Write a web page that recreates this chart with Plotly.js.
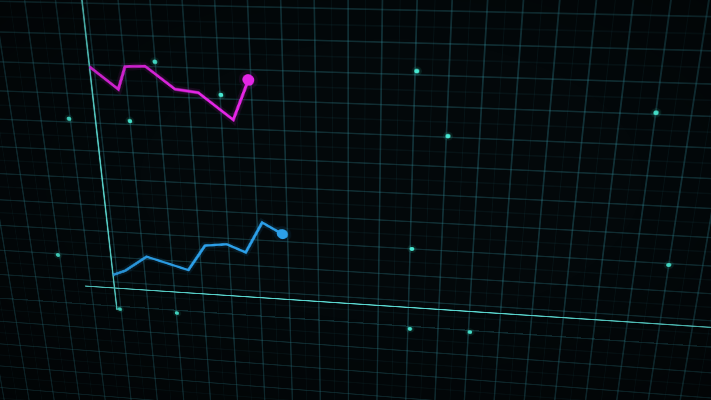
<!DOCTYPE html>
<html><head><meta charset="utf-8">
<script src="https://cdn.plot.ly/plotly-3.0.1.min.js"></script>
<style>
html,body{margin:0;padding:0;background:#03080a;width:711px;height:400px;overflow:hidden;}
#stage{position:absolute;left:0;top:0;width:711px;height:400px;overflow:hidden;background:#03080a;}
#plot{position:absolute;left:0;top:0;transform-origin:0 0;}
#vig{position:absolute;left:0;top:0;width:711px;height:400px;pointer-events:none;
 background:radial-gradient(ellipse at 55% 45%, rgba(0,0,0,0) 45%, rgba(0,0,0,0.4) 100%);}
</style></head><body>
<div id="stage"><div id="plot"></div><div id="vig"></div></div>
<script>
// ---- data (grid units on the chart plane) ----
const magentaX = [0, 0.87, 1.16, 1.81, 2.72, 3.46, 4.53, 5.07];
const magentaY = [8.18, 7.45, 8.22, 8.26, 7.52, 7.43, 6.55, 7.91];
const blueX = [0, 0.45, 1.27, 2.70, 3.34, 4.09, 4.72, 5.32, 5.98];
const blueY = [0.53, 0.73, 1.35, 0.92, 1.92, 2.02, 1.75, 2.92, 2.53];
const dotX = [2.14, 10.20, 4.18, -0.89, 1.15, 11.20, 17.16, 10.21, -1.91, 18.15, 0.11, 2.17, 10.22, 12.20];
const dotY = [8.41, 8.37, 7.38, 6.36, 6.37, 6.29, 7.30, 2.25, 1.20, 2.20, -0.86, -0.86, -0.85, -0.81];

// ---- plane / view settings ----
const X_RANGE = [-6, 24], Y_RANGE = [-6, 12];
const K = 40; // local px per unit
const W = (X_RANGE[1] - X_RANGE[0]) * K, H = (Y_RANGE[1] - Y_RANGE[0]) * K;
const Y_AXIS_START = -0.9, X_AXIS_START = -1.07;
// perspective calibration: plane rectangle (0,0)-(18,9.5) -> screen quad
const CAL_W = 18, CAL_H = 9.5;
const Q00 = [114.5, 288], Q10 = [655, 323.7], Q11 = [697, 42], Q01 = [84.93, 26.56];

function squareToQuad(p0, p1, p2, p3) {
  const [x0, y0] = p0, [x1, y1] = p1, [x2, y2] = p2, [x3, y3] = p3;
  const dx1 = x1 - x2, dx2 = x3 - x2, dx3 = x0 - x1 + x2 - x3;
  const dy1 = y1 - y2, dy2 = y3 - y2, dy3 = y0 - y1 + y2 - y3;
  const det = dx1 * dy2 - dx2 * dy1;
  const g = (dx3 * dy2 - dx2 * dy3) / det, h = (dx1 * dy3 - dx3 * dy1) / det;
  return [[x1 - x0 + g * x1, x3 - x0 + h * x3, x0],
          [y1 - y0 + g * y1, y3 - y0 + h * y3, y0],
          [g, h, 1]];
}
function mul(A, B) {
  const R = [[0,0,0],[0,0,0],[0,0,0]];
  for (let i = 0; i < 3; i++) for (let j = 0; j < 3; j++)
    for (let k = 0; k < 3; k++) R[i][j] += A[i][k] * B[k][j];
  return R;
}
const S = squareToQuad(Q00, Q10, Q11, Q01);
const Dm = [[1 / CAL_W, 0, 0], [0, 1 / CAL_H, 0], [0, 0, 1]];
const Am = [[1 / K, 0, X_RANGE[0]], [0, -1 / K, Y_RANGE[1]], [0, 0, 1]];
const M = mul(mul(S, Dm), Am);
const el = document.getElementById('plot');
el.style.width = W + 'px'; el.style.height = H + 'px';
el.style.transform = 'matrix3d(' + [M[0][0], M[1][0], 0, M[2][0], M[0][1], M[1][1], 0, M[2][1], 0, 0, 1, 0, M[0][2], M[1][2], 0, M[2][2]].join(',') + ')';

const MAG = '#e526e6', BLU = '#2c9fe8', AX = '#5ad6cf', DOT = '#48e8d2';
const last = a => [a[a.length - 1]];
const traces = [
  {x: dotX, y: dotY, mode: 'markers', marker: {size: 12, color: 'rgba(72,232,210,0.10)'}},
  {x: dotX, y: dotY, mode: 'markers', marker: {size: 6, color: DOT}},
  {x: magentaX, y: magentaY, mode: 'lines', line: {color: 'rgba(229,38,230,0.10)', width: 10}},
  {x: magentaX, y: magentaY, mode: 'lines', line: {color: MAG, width: 3.8}},
  {x: last(magentaX), y: last(magentaY), mode: 'markers', marker: {size: 24, color: 'rgba(229,38,230,0.08)'}},
  {x: last(magentaX), y: last(magentaY), mode: 'markers', marker: {size: 15, color: MAG}},
  {x: blueX, y: blueY, mode: 'lines', line: {color: 'rgba(44,159,232,0.10)', width: 10}},
  {x: blueX, y: blueY, mode: 'lines', line: {color: BLU, width: 3.8}},
  {x: last(blueX), y: last(blueY), mode: 'markers', marker: {size: 24, color: 'rgba(44,159,232,0.08)'}},
  {x: last(blueX), y: last(blueY), mode: 'markers', marker: {size: 15, color: BLU}}
];
const axisCommon = {showticklabels: false, ticks: '', zeroline: false, showline: false,
  showgrid: true, dtick: 1, fixedrange: true};
const layout = {
  width: W, height: H, autosize: false, showlegend: false,
  margin: {l: 0, r: 0, t: 0, b: 0, pad: 0},
  paper_bgcolor: '#03080a', plot_bgcolor: '#03080a',
  xaxis: Object.assign({}, axisCommon, {range: X_RANGE, tick0: 0.16,
    gridcolor: 'rgba(55,155,170,0.28)', gridwidth: 2,
    minor: {dtick: 0.5, tick0: 0.16, showgrid: true, gridcolor: 'rgba(55,155,170,0.08)', gridwidth: 1.4}}),
  yaxis: Object.assign({}, axisCommon, {range: Y_RANGE, tick0: 0.25,
    gridcolor: 'rgba(55,155,170,0.25)', gridwidth: 1.6,
    minor: {dtick: 0.5, tick0: 0.25, showgrid: true, gridcolor: 'rgba(55,155,170,0.07)', gridwidth: 1.2}}),
  shapes: [
    {type: 'line', layer: 'between', xref: 'x', yref: 'y', x0: 0, x1: 0, y0: Y_AXIS_START, y1: Y_RANGE[1], line: {color: AX, width: 2.2}},
    {type: 'line', layer: 'between', xref: 'x', yref: 'y', x0: X_AXIS_START, x1: X_RANGE[1], y0: 0, y1: 0, line: {color: AX, width: 2.2}}
  ]
};
Plotly.newPlot('plot', traces, layout, {staticPlot: true, displayModeBar: false});
</script></body></html>
